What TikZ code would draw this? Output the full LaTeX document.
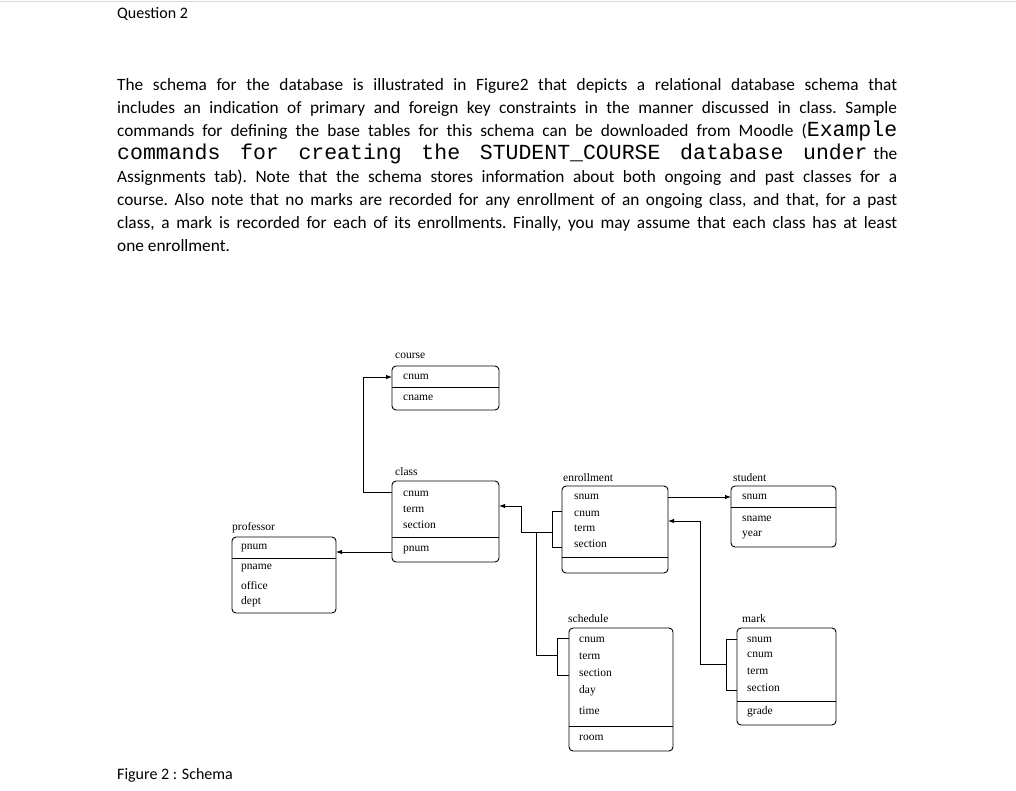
\documentclass[tikz,border=0pt]{standalone}
\usepackage{fontspec}
\setmainfont{Carlito}
\newfontfamily\dfont{Liberation Serif}
\newfontfamily\mfont{Liberation Mono}
\usetikzlibrary{arrows.meta}
\begin{document}
\begin{tikzpicture}[x=1pt,y=-1pt,
  tbl/.style={draw,line width=0.9pt,rounded corners=4pt},
  dv/.style={line width=0.8pt},
  lab/.style={anchor=west,inner sep=0pt,font=\dfont\fontsize{11.5}{13}\selectfont},
  con/.style={line width=0.9pt},
  arr/.style={con,-{Latex[length=6pt,width=4.5pt]}}]
\useasboundingbox (0,0) rectangle (1016,790);
\draw[gray!30,line width=1pt] (0,1) -- (1016,1);
\node[anchor=west,inner sep=0pt,font=\fontsize{16}{18}\selectfont] (q) at (117,14) {Question 2};
\node[anchor=north west,inner sep=0pt,text width=780pt,align=justify,font=\fontsize{17.3}{23}\selectfont] (para) at (117,78) {\frenchspacing The schema for the database is illustrated in Figure2 that depicts a relational database schema that\linebreak
includes an indication of primary and foreign key constraints in the manner discussed in class. Sample\linebreak
commands for defining the base tables for this schema can be downloaded from Moodle ({\mfont\fontsize{21.5}{23}\selectfont Example}\linebreak
{\mfont\fontsize{21.5}{23}\selectfont commands for creating the STUDENT\_COURSE database under} the\linebreak
Assignments tab). Note that the schema stores information about both ongoing and past classes for a\linebreak
course. Also note that no marks are recorded for any enrollment of an ongoing class, and that, for a past\linebreak
class, a mark is recorded for each of its enrollments. Finally, you may assume that each class has at least\linebreak
one enrollment.};
\node[anchor=west,inner sep=0pt,font=\fontsize{16}{18}\selectfont] (fig) at (117,775) {Figure 2 : Schema};

% course
\node[lab] (coursel) at (395,356) {course};
\draw[tbl] (392,366) rectangle (499,410);
\draw[dv] (392,387) -- (499,387);
\node[lab] (c1) at (403,377) {cnum};
\node[lab] (c2) at (403,398) {cname};
% class
\node[lab] (classl) at (395,472) {class};
\draw[tbl] (392,481) rectangle (499,562);
\draw[dv] (392,537) -- (499,537);
\node[lab] at (403,494) {cnum};
\node[lab] at (403,509) {term};
\node[lab] at (403,525) {section};
\node[lab] at (403,550) {pnum};
% professor
\node[lab] at (232,528) {professor};
\draw[tbl] (232,537) rectangle (336,613);
\draw[dv] (232,558) -- (336,558);
\node[lab] at (241,548) {pnum};
\node[lab] at (241,568) {pname};
\node[lab] at (241,585) {office};
\node[lab] at (241,602) {dept};
% enrollment
\node[lab] at (563,478) {enrollment};
\draw[tbl] (562,486) rectangle (668,573);
\draw[dv] (562,557) -- (668,557);
\node[lab] at (574,497) {snum};
\node[lab] at (574,514) {cnum};
\node[lab] at (574,528) {term};
\node[lab] at (574,544) {section};
% student
\node[lab] at (733,478) {student};
\draw[tbl] (731,486) rectangle (836,547);
\draw[dv] (731,507) -- (836,507);
\node[lab] at (742,497) {snum};
\node[lab] at (742,519) {sname};
\node[lab] at (742,535) {year};
% schedule
\node[lab] at (568,619) {schedule};
\draw[tbl] (569,628) rectangle (673,751);
\draw[dv] (569,726) -- (673,726);
\node[lab] at (579,640) {cnum};
\node[lab] at (579,656) {term};
\node[lab] at (579,673) {section};
\node[lab] at (579,691) {day};
\node[lab] at (579,711) {time};
\node[lab] at (579,738) {room};
% mark
\node[lab] at (742,619) {mark};
\draw[tbl] (737,628) rectangle (836,725);
\draw[dv] (737,701) -- (836,701);
\node[lab] at (747,640) {snum};
\node[lab] at (747,655) {cnum};
\node[lab] at (747,671) {term};
\node[lab] at (747,688) {section};
\node[lab] at (747,712) {grade};

% connectors
\draw[arr] (392,492) -- (363,492) -- (363,377) -- (392,377);
\draw[arr] (392,552) -- (336,552);
\draw[con] (562,511) -- (552,511) -- (552,547) -- (562,547);
\draw[arr] (552,532) -- (521,532) -- (521,506) -- (499,506);
\draw[con] (569,638) -- (557,638) -- (557,675) -- (569,675);
\draw[con] (557,655) -- (536,655) -- (536,532);
\draw[arr] (668,497) -- (731,497);
\draw[con] (737,639) -- (726,639) -- (726,690) -- (737,690);
\draw[arr] (726,664) -- (700,664) -- (700,521) -- (668,521);
\end{tikzpicture}
\end{document}
